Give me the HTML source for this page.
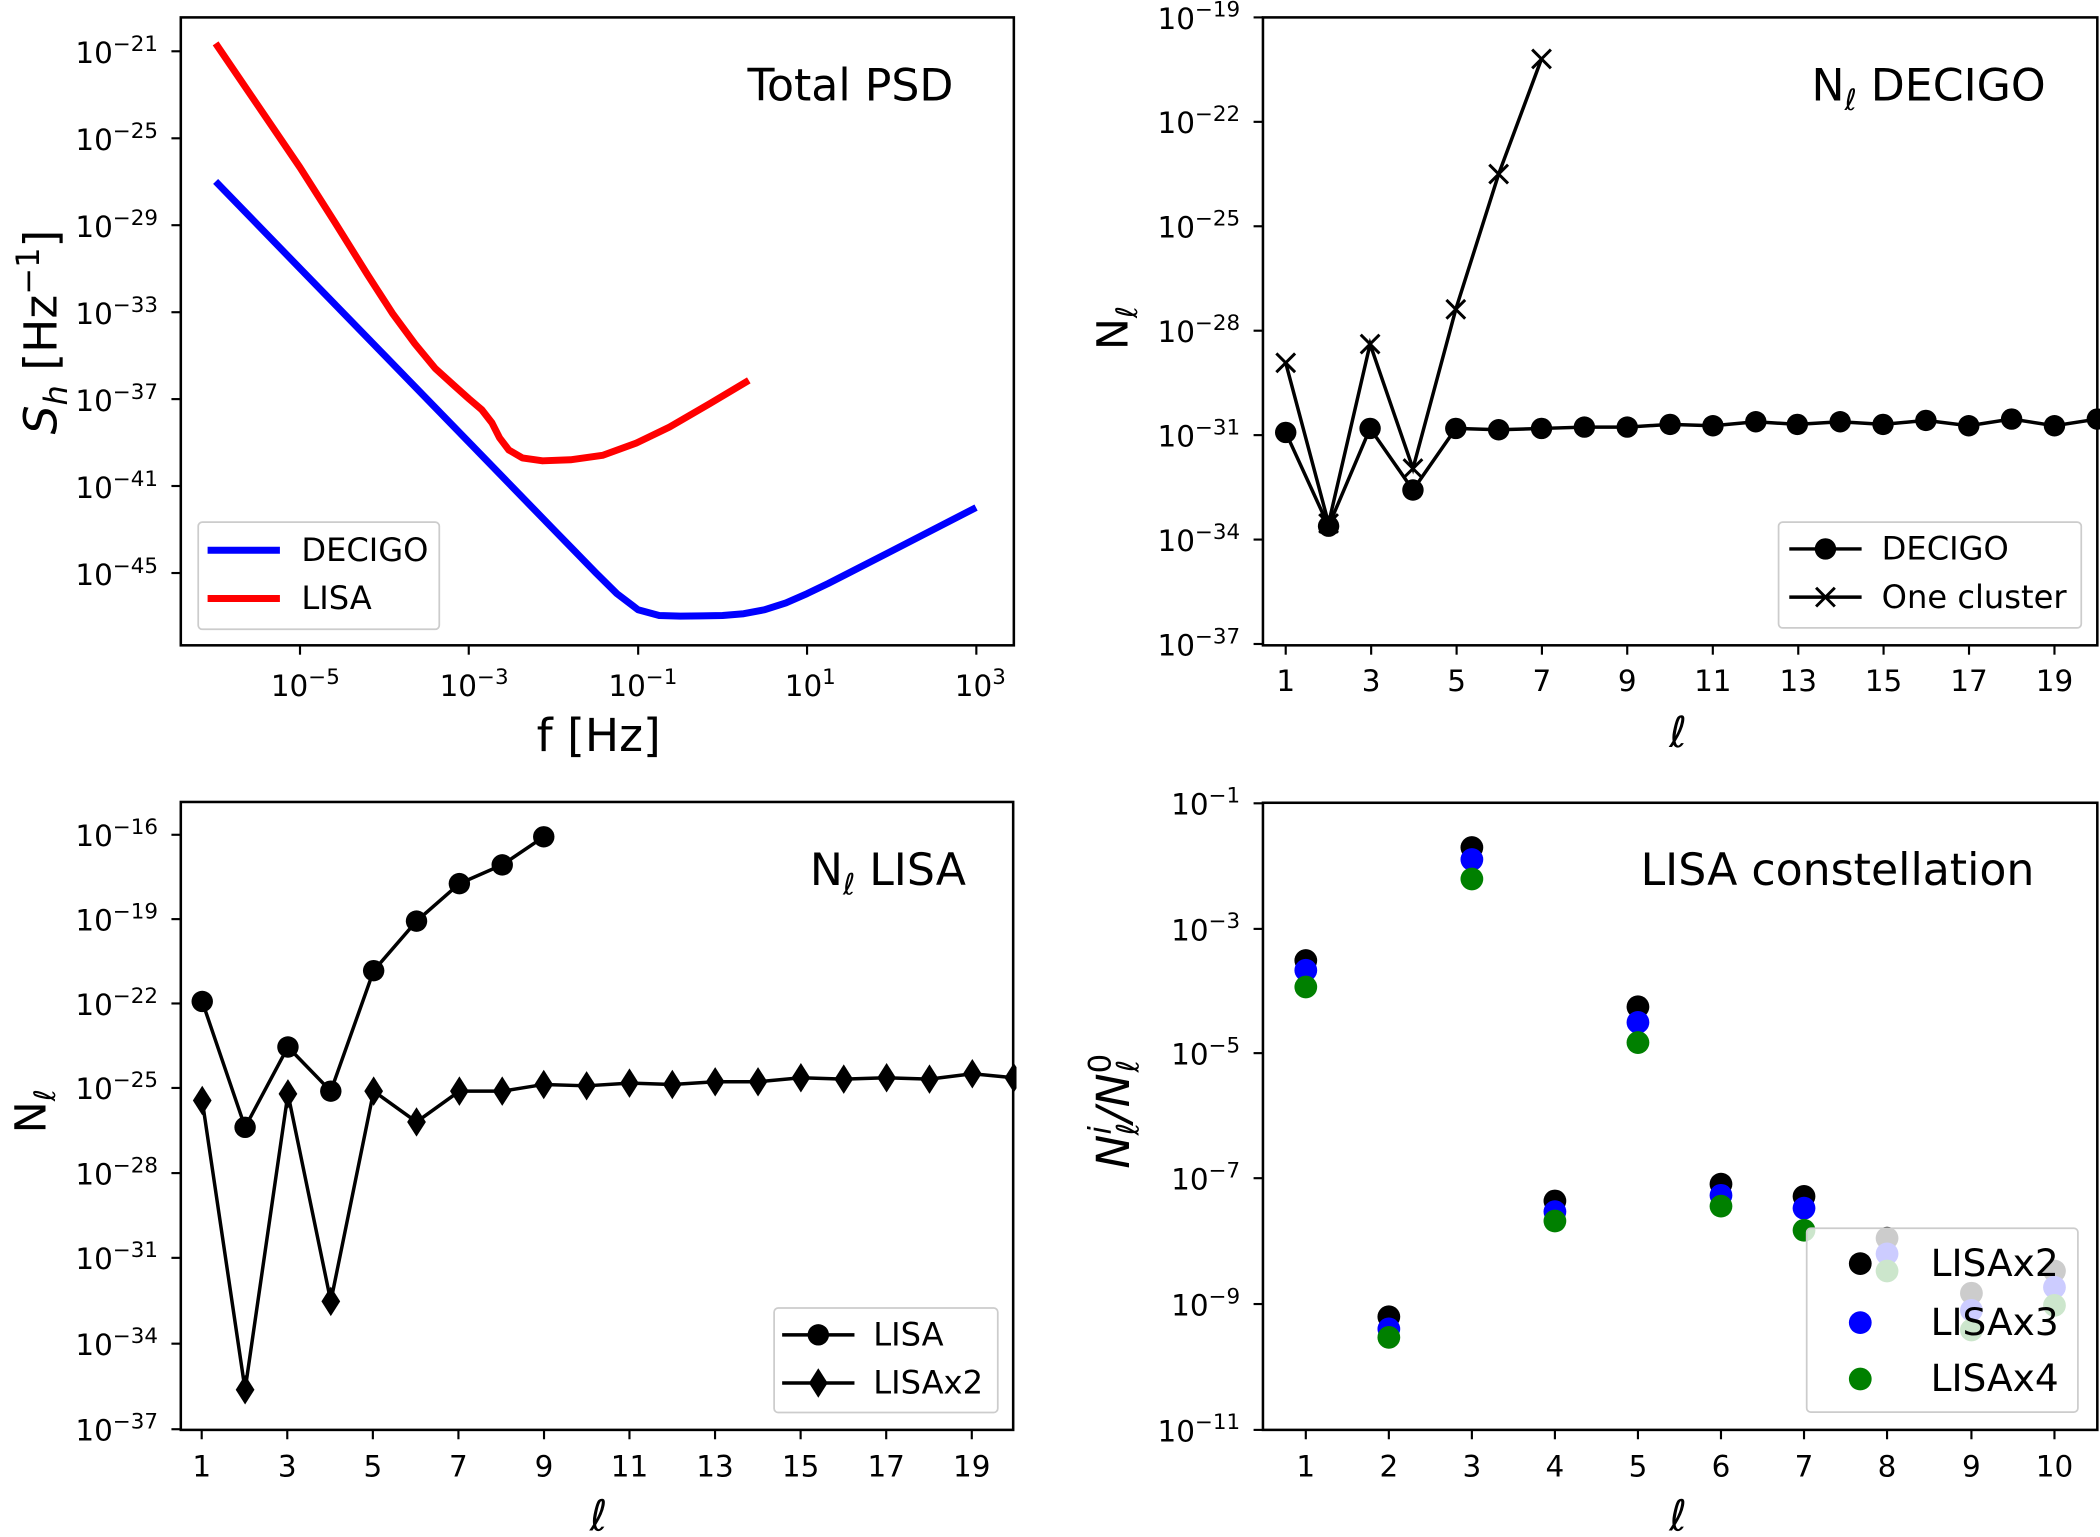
<!DOCTYPE html>
<html><head><meta charset="utf-8"><style>
html,body{margin:0;padding:0;background:#fff}
svg{display:block}
text{font-family:"DejaVu Sans","Liberation Sans",sans-serif;fill:#000}
</style></head><body>
<svg width="2100" height="1537" viewBox="0 0 1568 1148" preserveAspectRatio="none" xmlns="http://www.w3.org/2000/svg">
<rect width="1568" height="1148" fill="#fff"/>

<!-- ===== Panel 1 ===== -->
<g>
<g fill="none" stroke-linejoin="round" stroke-linecap="butt" stroke-width="5.2">
<polyline stroke="#0000ff" points="161,135.5 224,200.5 287.1,265.4 350.2,330.4 413.3,395.4 429.1,411.6 444.9,427.8 460.6,443.4 476.4,455.4 492.2,459.7 508,460.2 523.7,460 539.5,459.7 555.3,458.4 571,455.4 586.8,450.3 602.6,443.4 618.4,435.8 634.1,427.8 665.7,411.6 728.8,379.1"/>
<polyline stroke="#ff0000" points="161,32.4 192,78 224,125.1 250,166 274.5,205.3 293,234 309.8,256.8 325,275.2 338,287 350.2,297.9 359.7,306 367.3,315.8 373,327 379.9,336.1 390,342 405.1,344.2 426,343.4 449.9,340.1 475,331 499.8,319 530,301.5 559.1,284.1"/>
</g>
<rect x="135" y="13" width="622" height="469" fill="none" stroke="#000" stroke-width="1.9"/>
<g stroke="#000" stroke-width="1.6">
<line x1="128" y1="38.3" x2="135" y2="38.3"/><line x1="128" y1="103.3" x2="135" y2="103.3"/><line x1="128" y1="168.2" x2="135" y2="168.2"/><line x1="128" y1="233.2" x2="135" y2="233.2"/><line x1="128" y1="298.1" x2="135" y2="298.1"/><line x1="128" y1="363" x2="135" y2="363"/><line x1="128" y1="428" x2="135" y2="428"/>
<line x1="224" y1="482" x2="224" y2="489"/><line x1="350" y1="482" x2="350" y2="489"/><line x1="476.5" y1="482" x2="476.5" y2="489"/><line x1="602.6" y1="482" x2="602.6" y2="489"/><line x1="729" y1="482" x2="729" y2="489"/>
</g>
<g font-size="22" text-anchor="end">
<text x="118" y="47">10<tspan dy="-9" font-size="16">−21</tspan></text>
<text x="118" y="112">10<tspan dy="-9" font-size="16">−25</tspan></text>
<text x="118" y="177">10<tspan dy="-9" font-size="16">−29</tspan></text>
<text x="118" y="242">10<tspan dy="-9" font-size="16">−33</tspan></text>
<text x="118" y="307">10<tspan dy="-9" font-size="16">−37</tspan></text>
<text x="118" y="372">10<tspan dy="-9" font-size="16">−41</tspan></text>
<text x="118" y="437">10<tspan dy="-9" font-size="16">−45</tspan></text>
</g>
<g font-size="22" text-anchor="middle">
<text x="228" y="520">10<tspan dy="-9" font-size="16">−5</tspan></text>
<text x="354" y="520">10<tspan dy="-9" font-size="16">−3</tspan></text>
<text x="480" y="520">10<tspan dy="-9" font-size="16">−1</tspan></text>
<text x="605" y="520">10<tspan dy="-9" font-size="16">1</tspan></text>
<text x="732" y="520">10<tspan dy="-9" font-size="16">3</tspan></text>
</g>
<text x="447" y="561" font-size="34" text-anchor="middle">f [Hz]</text>
<text transform="translate(42,248) rotate(-90)" font-size="34" text-anchor="middle"><tspan font-style="italic">S</tspan><tspan font-size="24" dy="8" font-style="italic">h</tspan><tspan dy="-8"> [Hz</tspan><tspan font-size="24" dy="-13">−1</tspan><tspan dy="13">]</tspan></text>
<text x="635" y="75" font-size="33" text-anchor="middle">Total PSD</text>
<rect x="148" y="390" width="180" height="80" rx="3" fill="#fff" fill-opacity="0.8" stroke="#ccc" stroke-width="1.3"/>
<line x1="155" y1="411" x2="209" y2="411" stroke="#0000ff" stroke-width="5.2"/>
<line x1="155" y1="447" x2="209" y2="447" stroke="#ff0000" stroke-width="5.2"/>
<text x="225" y="419" font-size="24">DECIGO</text>
<text x="225" y="455" font-size="24">LISA</text>
</g>

<!-- ===== Panel 2 ===== -->
<g>
<polyline fill="none" stroke="#000" stroke-width="2.6" points="960,323 992,393 1023,320 1055,366 1087,320 1119,321 1151,320 1183,319 1215,319 1247,317 1279,318 1311,315 1342,317 1374,315 1406,317 1438,314 1470,318 1502,313 1534,318 1566,313"/>
<g fill="#000">
<circle cx="960" cy="323" r="8"/><circle cx="992" cy="393" r="8"/><circle cx="1023" cy="320" r="8"/><circle cx="1055" cy="366" r="8"/><circle cx="1087" cy="320" r="8"/><circle cx="1119" cy="321" r="8"/><circle cx="1151" cy="320" r="8"/><circle cx="1183" cy="319" r="8"/><circle cx="1215" cy="319" r="8"/><circle cx="1247" cy="317" r="8"/><circle cx="1279" cy="318" r="8"/><circle cx="1311" cy="315" r="8"/><circle cx="1342" cy="317" r="8"/><circle cx="1374" cy="315" r="8"/><circle cx="1406" cy="317" r="8"/><circle cx="1438" cy="314" r="8"/><circle cx="1470" cy="318" r="8"/><circle cx="1502" cy="313" r="8"/><circle cx="1534" cy="318" r="8"/><circle cx="1566" cy="313" r="8"/>
</g>
<polyline fill="none" stroke="#000" stroke-width="2.6" points="960,271 992,391 1023,257 1055,350 1087,231 1119,130 1151,44"/>
<g stroke="#000" stroke-width="2.2">
<path d="M953,264l14,14M953,278l14,-14"/><path d="M985,384l14,14M985,398l14,-14"/><path d="M1016,250l14,14M1016,264l14,-14"/><path d="M1048,343l14,14M1048,357l14,-14"/><path d="M1080,224l14,14M1080,238l14,-14"/><path d="M1112,123l14,14M1112,137l14,-14"/><path d="M1144,37l14,14M1144,51l14,-14"/>
</g>
<rect x="943" y="13" width="623" height="469" fill="none" stroke="#000" stroke-width="1.9"/>
<g stroke="#000" stroke-width="1.6">
<line x1="936" y1="13" x2="943" y2="13"/><line x1="936" y1="91" x2="943" y2="91"/><line x1="936" y1="169" x2="943" y2="169"/><line x1="936" y1="247" x2="943" y2="247"/><line x1="936" y1="325" x2="943" y2="325"/><line x1="936" y1="403" x2="943" y2="403"/><line x1="936" y1="481" x2="943" y2="481"/>
<line x1="960" y1="482" x2="960" y2="489"/><line x1="1023.8" y1="482" x2="1023.8" y2="489"/><line x1="1087.6" y1="482" x2="1087.6" y2="489"/><line x1="1151.3" y1="482" x2="1151.3" y2="489"/><line x1="1215" y1="482" x2="1215" y2="489"/><line x1="1278.9" y1="482" x2="1278.9" y2="489"/><line x1="1342.7" y1="482" x2="1342.7" y2="489"/><line x1="1406.4" y1="482" x2="1406.4" y2="489"/><line x1="1470.2" y1="482" x2="1470.2" y2="489"/><line x1="1534" y1="482" x2="1534" y2="489"/>
</g>
<g font-size="22" text-anchor="end">
<text x="926" y="21.5">10<tspan dy="-9" font-size="16">−19</tspan></text>
<text x="926" y="99.5">10<tspan dy="-9" font-size="16">−22</tspan></text>
<text x="926" y="177.5">10<tspan dy="-9" font-size="16">−25</tspan></text>
<text x="926" y="255.5">10<tspan dy="-9" font-size="16">−28</tspan></text>
<text x="926" y="333.5">10<tspan dy="-9" font-size="16">−31</tspan></text>
<text x="926" y="411.5">10<tspan dy="-9" font-size="16">−34</tspan></text>
<text x="926" y="489.5">10<tspan dy="-9" font-size="16">−37</tspan></text>
</g>
<g font-size="22" text-anchor="middle">
<text x="960" y="516">1</text><text x="1023.8" y="516">3</text><text x="1087.6" y="516">5</text><text x="1151.3" y="516">7</text><text x="1215" y="516">9</text><text x="1278.9" y="516">11</text><text x="1342.7" y="516">13</text><text x="1406.4" y="516">15</text><text x="1470.2" y="516">17</text><text x="1534" y="516">19</text>
</g>
<text x="1253" y="558" font-size="32" font-style="italic" text-anchor="middle">ℓ</text>
<text transform="translate(842,245) rotate(-90)" font-size="32" text-anchor="middle">N<tspan font-size="22" dy="7" font-style="italic">ℓ</tspan></text>
<text x="1440" y="75" font-size="33" text-anchor="middle">N<tspan font-size="22" dy="7" font-style="italic">ℓ</tspan><tspan dy="-7"> DECIGO</tspan></text>
<rect x="1328" y="390" width="226" height="79" rx="3" fill="#fff" fill-opacity="0.8" stroke="#ccc" stroke-width="1.3"/>
<line x1="1336" y1="410" x2="1390" y2="410" stroke="#000" stroke-width="2.6"/><circle cx="1363" cy="410" r="8"/>
<line x1="1336" y1="446" x2="1390" y2="446" stroke="#000" stroke-width="2.6"/><path d="M1356,439l14,14M1356,453l14,-14" stroke="#000" stroke-width="2.2"/>
<text x="1405" y="418" font-size="24">DECIGO</text>
<text x="1405" y="454" font-size="24">One cluster</text>
</g>

<!-- ===== Panel 3 ===== -->
<g>
<polyline fill="none" stroke="#000" stroke-width="2.6" points="151,748 183,842 215,782 247,815 279,725 311,688 343,660 375,646 406,625"/>
<g fill="#000">
<circle cx="151" cy="748" r="8"/><circle cx="183" cy="842" r="8"/><circle cx="215" cy="782" r="8"/><circle cx="247" cy="815" r="8"/><circle cx="279" cy="725" r="8"/><circle cx="311" cy="688" r="8"/><circle cx="343" cy="660" r="8"/><circle cx="375" cy="646" r="8"/><circle cx="406" cy="625" r="8"/>
</g>
<polyline fill="none" stroke="#000" stroke-width="2.6" points="151,822 183,1038 215,817 247,972 279,815 311,838 343,815 375,815 406,810 438,811 470,809 502,810 534,808 566,808 598,805 630,806 662,805 694,806 726,802 757,805"/>
<g fill="#000">
<path d="M151,811l7,11l-7,11l-7,-11z"/><path d="M183,1027l7,11l-7,11l-7,-11z"/><path d="M215,806l7,11l-7,11l-7,-11z"/><path d="M247,961l7,11l-7,11l-7,-11z"/><path d="M279,804l7,11l-7,11l-7,-11z"/><path d="M311,827l7,11l-7,11l-7,-11z"/><path d="M343,804l7,11l-7,11l-7,-11z"/><path d="M375,804l7,11l-7,11l-7,-11z"/><path d="M406,799l7,11l-7,11l-7,-11z"/><path d="M438,800l7,11l-7,11l-7,-11z"/><path d="M470,798l7,11l-7,11l-7,-11z"/><path d="M502,799l7,11l-7,11l-7,-11z"/><path d="M534,797l7,11l-7,11l-7,-11z"/><path d="M566,797l7,11l-7,11l-7,-11z"/><path d="M598,794l7,11l-7,11l-7,-11z"/><path d="M630,795l7,11l-7,11l-7,-11z"/><path d="M662,794l7,11l-7,11l-7,-11z"/><path d="M694,795l7,11l-7,11l-7,-11z"/><path d="M726,791l7,11l-7,11l-7,-11z"/><path d="M757,794l7,11l-7,11l-7,-11z"/>
</g>
<rect x="759" y="780" width="20" height="40" fill="#fff"/>
<rect x="135" y="599" width="621.5" height="469" fill="none" stroke="#000" stroke-width="1.9"/>
<g stroke="#000" stroke-width="1.6">
<line x1="128" y1="623.5" x2="135" y2="623.5"/><line x1="128" y1="686.5" x2="135" y2="686.5"/><line x1="128" y1="749.5" x2="135" y2="749.5"/><line x1="128" y1="812.6" x2="135" y2="812.6"/><line x1="128" y1="876.2" x2="135" y2="876.2"/><line x1="128" y1="939.5" x2="135" y2="939.5"/><line x1="128" y1="1003.6" x2="135" y2="1003.6"/><line x1="128" y1="1067.5" x2="135" y2="1067.5"/>
<line x1="150.6" y1="1068" x2="150.6" y2="1075"/><line x1="214.5" y1="1068" x2="214.5" y2="1075"/><line x1="278.4" y1="1068" x2="278.4" y2="1075"/><line x1="342.3" y1="1068" x2="342.3" y2="1075"/><line x1="406.2" y1="1068" x2="406.2" y2="1075"/><line x1="470" y1="1068" x2="470" y2="1075"/><line x1="533.9" y1="1068" x2="533.9" y2="1075"/><line x1="597.8" y1="1068" x2="597.8" y2="1075"/><line x1="661.7" y1="1068" x2="661.7" y2="1075"/><line x1="725.6" y1="1068" x2="725.6" y2="1075"/>
</g>
<g font-size="22" text-anchor="end">
<text x="118" y="632">10<tspan dy="-9" font-size="16">−16</tspan></text>
<text x="118" y="695">10<tspan dy="-9" font-size="16">−19</tspan></text>
<text x="118" y="758">10<tspan dy="-9" font-size="16">−22</tspan></text>
<text x="118" y="821">10<tspan dy="-9" font-size="16">−25</tspan></text>
<text x="118" y="884.7">10<tspan dy="-9" font-size="16">−28</tspan></text>
<text x="118" y="948">10<tspan dy="-9" font-size="16">−31</tspan></text>
<text x="118" y="1012">10<tspan dy="-9" font-size="16">−34</tspan></text>
<text x="118" y="1076">10<tspan dy="-9" font-size="16">−37</tspan></text>
</g>
<g font-size="22" text-anchor="middle">
<text x="150.6" y="1103">1</text><text x="214.5" y="1103">3</text><text x="278.4" y="1103">5</text><text x="342.3" y="1103">7</text><text x="406.2" y="1103">9</text><text x="470" y="1103">11</text><text x="533.9" y="1103">13</text><text x="597.8" y="1103">15</text><text x="661.7" y="1103">17</text><text x="725.6" y="1103">19</text>
</g>
<text x="447" y="1143" font-size="32" font-style="italic" text-anchor="middle">ℓ</text>
<text transform="translate(34,830) rotate(-90)" font-size="32" text-anchor="middle">N<tspan font-size="22" dy="7" font-style="italic">ℓ</tspan></text>
<text x="663" y="661" font-size="33" text-anchor="middle">N<tspan font-size="22" dy="7" font-style="italic">ℓ</tspan><tspan dy="-7"> LISA</tspan></text>
<rect x="578" y="977" width="167" height="78" rx="3" fill="#fff" fill-opacity="0.8" stroke="#ccc" stroke-width="1.3"/>
<line x1="584" y1="997" x2="638" y2="997" stroke="#000" stroke-width="2.6"/><circle cx="611" cy="997" r="8"/>
<line x1="584" y1="1033" x2="638" y2="1033" stroke="#000" stroke-width="2.6"/><path d="M611,1022l7,11l-7,11l-7,-11z"/>
<text x="652" y="1005" font-size="24">LISA</text>
<text x="652" y="1041" font-size="24">LISAx2</text>
</g>

<!-- ===== Panel 4 ===== -->
<g>
<g>
<circle cx="975" cy="717.4" r="8.5" fill="#000"/><circle cx="975" cy="724.7" r="8.5" fill="#0000ff"/><circle cx="975" cy="737.2" r="8.5" fill="#008000"/>
<circle cx="1037" cy="983.5" r="8.5" fill="#000"/><circle cx="1037" cy="992.6" r="8.5" fill="#0000ff"/><circle cx="1037" cy="998.9" r="8.5" fill="#008000"/>
<circle cx="1099" cy="633" r="8.5" fill="#000"/><circle cx="1099" cy="642" r="8.5" fill="#0000ff"/><circle cx="1099" cy="656.5" r="8.5" fill="#008000"/>
<circle cx="1161" cy="897" r="8.5" fill="#000"/><circle cx="1161" cy="905" r="8.5" fill="#0000ff"/><circle cx="1161" cy="912" r="8.5" fill="#008000"/>
<circle cx="1223" cy="752" r="8.5" fill="#000"/><circle cx="1223" cy="763.6" r="8.5" fill="#0000ff"/><circle cx="1223" cy="778.7" r="8.5" fill="#008000"/>
<circle cx="1285" cy="884.4" r="8.5" fill="#000"/><circle cx="1285" cy="892.8" r="8.5" fill="#0000ff"/><circle cx="1285" cy="900.9" r="8.5" fill="#008000"/>
<circle cx="1347" cy="893.6" r="8.5" fill="#000"/><circle cx="1347" cy="902.4" r="8.5" fill="#0000ff"/><circle cx="1347" cy="918.9" r="8.5" fill="#008000"/>
<circle cx="1409" cy="924.8" r="8.5" fill="#000"/><circle cx="1409" cy="936.5" r="8.5" fill="#0000ff"/><circle cx="1409" cy="949.3" r="8.5" fill="#008000"/>
<circle cx="1472" cy="965.9" r="8.5" fill="#000"/><circle cx="1472" cy="978.7" r="8.5" fill="#0000ff"/><circle cx="1472" cy="993.4" r="8.5" fill="#008000"/>
<circle cx="1534" cy="949.3" r="8.5" fill="#000"/><circle cx="1534" cy="961.5" r="8.5" fill="#0000ff"/><circle cx="1534" cy="975" r="8.5" fill="#008000"/>
</g>
<rect x="1349" y="917.4" width="202.5" height="137.3" rx="3" fill="#fff" fill-opacity="0.8" stroke="#ccc" stroke-width="1.3"/>
<circle cx="1389" cy="943.8" r="8.5" fill="#000"/>
<circle cx="1389" cy="987.9" r="8.5" fill="#0000ff"/>
<circle cx="1389" cy="1030" r="8.5" fill="#008000"/>
<text x="1441.5" y="953" font-size="28">LISAx2</text>
<text x="1441.5" y="997" font-size="28">LISAx3</text>
<text x="1441.5" y="1039" font-size="28">LISAx4</text>
<rect x="943" y="599.6" width="623" height="468.4" fill="none" stroke="#000" stroke-width="1.9"/>
<g stroke="#000" stroke-width="1.6">
<line x1="936" y1="600" x2="943" y2="600"/><line x1="936" y1="693.8" x2="943" y2="693.8"/><line x1="936" y1="786.6" x2="943" y2="786.6"/><line x1="936" y1="880" x2="943" y2="880"/><line x1="936" y1="974" x2="943" y2="974"/><line x1="936" y1="1068" x2="943" y2="1068"/>
<line x1="975" y1="1068" x2="975" y2="1075"/><line x1="1037" y1="1068" x2="1037" y2="1075"/><line x1="1099" y1="1068" x2="1099" y2="1075"/><line x1="1161" y1="1068" x2="1161" y2="1075"/><line x1="1223" y1="1068" x2="1223" y2="1075"/><line x1="1285" y1="1068" x2="1285" y2="1075"/><line x1="1347" y1="1068" x2="1347" y2="1075"/><line x1="1409" y1="1068" x2="1409" y2="1075"/><line x1="1472" y1="1068" x2="1472" y2="1075"/><line x1="1534" y1="1068" x2="1534" y2="1075"/>
</g>
<g font-size="22" text-anchor="end">
<text x="926" y="608.5">10<tspan dy="-9" font-size="16">−1</tspan></text>
<text x="926" y="702.3">10<tspan dy="-9" font-size="16">−3</tspan></text>
<text x="926" y="795">10<tspan dy="-9" font-size="16">−5</tspan></text>
<text x="926" y="888.5">10<tspan dy="-9" font-size="16">−7</tspan></text>
<text x="926" y="982.5">10<tspan dy="-9" font-size="16">−9</tspan></text>
<text x="926" y="1076.5">10<tspan dy="-9" font-size="16">−11</tspan></text>
</g>
<g font-size="22" text-anchor="middle">
<text x="975" y="1103">1</text><text x="1037" y="1103">2</text><text x="1099" y="1103">3</text><text x="1161" y="1103">4</text><text x="1223" y="1103">5</text><text x="1285" y="1103">6</text><text x="1347" y="1103">7</text><text x="1409" y="1103">8</text><text x="1472" y="1103">9</text><text x="1534" y="1103">10</text>
</g>
<text x="1253" y="1143" font-size="32" font-style="italic" text-anchor="middle">ℓ</text>
<text transform="translate(843,830) rotate(-90)" font-size="34" text-anchor="middle" font-style="italic">N<tspan font-size="23" dy="-14">i</tspan><tspan font-size="23" dx="-7" dy="21">ℓ</tspan><tspan dy="-7">/N</tspan><tspan font-size="23" dy="-14" font-style="normal">0</tspan><tspan font-size="23" dx="-14" dy="21">ℓ</tspan></text>
<text x="1372" y="661" font-size="33" text-anchor="middle">LISA constellation</text>
</g>
</svg>
</body></html>
